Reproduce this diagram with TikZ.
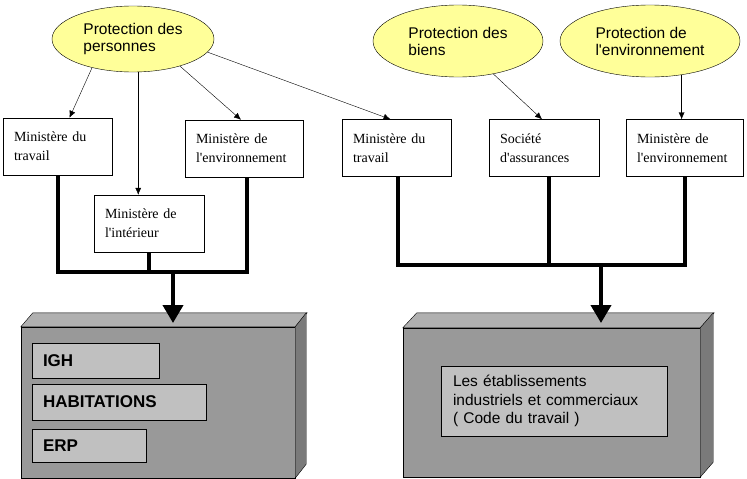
\documentclass[tikz,border=0pt]{standalone}
\usepackage{fontspec}
\setmainfont{Liberation Serif}
\newfontfamily\arialfont{Liberation Sans}
\usetikzlibrary{shapes.geometric,arrows.meta}

\definecolor{jaunepale}{HTML}{FFFF99}
\definecolor{gristoit}{HTML}{B0B0B0}
\definecolor{grisface}{HTML}{999999}
\definecolor{griscote}{HTML}{7A7A7A}
\definecolor{grisclair}{HTML}{C0C0C0}

\newcommand{\apos}{\textquotesingle}

\tikzset{
	protection/.style={ellipse, draw, fill=jaunepale, inner sep=0pt, align=left,
		font=\arialfont\fontsize{15.5}{17}\selectfont},
	ministere/.style={draw, fill=white, minimum height=57pt, inner xsep=11pt, align=left,
		font=\fontsize{14}{19}\selectfont},
	fleche/.style={-{Latex[length=7pt,width=6pt]}, thin},
	bus/.style={line width=4pt, line join=miter},
	grossefleche/.style={line width=4pt, -{Triangle[length=18pt,width=20pt]}},
	facade/.style={draw, fill=grisface, inner sep=0pt},
	categorie/.style={draw, fill=grisclair, inner xsep=11pt, align=left,
		font=\arialfont\bfseries\fontsize{17}{20}\selectfont},
}

\begin{document}
\begin{tikzpicture}[x=1pt,y=-1pt]
	\useasboundingbox (0,0) rectangle (747,479);

	% les trois protections
	\node[protection, minimum width=162pt, minimum height=66pt] (protPers) at (133,39)
		{Protection des\\personnes};
	\node[protection, minimum width=170pt, minimum height=72pt] (protBiens) at (458,41)
		{Protection des\\biens};
	\node[protection, minimum width=180pt, minimum height=72pt] (protEnv) at (650,41)
		{Protection de\\l\apos environnement};

	% les ministeres
	\node[ministere, text width=87pt] (minTravailA) at (57.5,146.5) {Ministère du\\travail};
	\node[ministere, text width=88pt] (minInt) at (149,223.5) {Ministère de\\l\apos intérieur};
	\node[ministere, text width=96pt] (minEnvA) at (244,148.5) {Ministère de\\l\apos environnement};
	\node[ministere, text width=87pt] (minTravailB) at (396.5,148) {Ministère du\\travail};
	\node[ministere, text width=88pt] (minAssur) at (544,148) {Société\\d\apos assurances};
	\node[ministere, text width=95pt] (minEnvB) at (684.5,148) {Ministère de\\l\apos environnement};

	\draw[fleche] (protPers.215) -- ([xshift=12pt]minTravailA.north);
	\draw[fleche] (protPers.279) -- (protPers.279 |- minInt.north);
	\draw[fleche] (protPers.330) -- ([xshift=-3pt]minEnvA.north);
	\draw[fleche] (protPers.350) -- ([xshift=-6pt]minTravailB.north);
	\draw[fleche] (protBiens.317) -- ([xshift=-2pt]minAssur.north);
	\draw[fleche] (protEnv.313) -- (protEnv.313 |- minEnvB.north);

	% regroupements
	\coordinate (jonctionA) at (173,272);
	\coordinate (jonctionB) at (601,265);
	\draw[bus] (minTravailA.south) |- (jonctionA) -| ([xshift=3pt]minEnvA.south);
	\draw[bus] (minInt.south) -- (minInt.south |- jonctionA);
	\draw[bus] ([xshift=1.5pt]minTravailB.south) |- (jonctionB) -| (minEnvB.south);
	\draw[bus] ([xshift=5pt]minAssur.south) -- ([xshift=5pt]minAssur.south |- jonctionB);

	% batiment de gauche
	\node[facade, minimum width=274pt, minimum height=151pt] (batA) at (158,402.5) {};
	\draw[fill=gristoit] (batA.north west) -- ++(12,-14) -- ([shift={(12,-14)}]batA.north east)
		-- (batA.north east) -- cycle;
	\draw[fill=griscote] (batA.north east) -- ++(11,-14) -- ([shift={(11,-14)}]batA.south east)
		-- (batA.south east) -- cycle;
	\node[categorie, text width=105pt, minimum height=35pt] (igh) at (95.5,360.5) {IGH};
	\node[categorie, text width=152pt, minimum height=36pt] (habit) at (119,402) {HABITATIONS};
	\node[categorie, text width=92pt, minimum height=33pt] (erp) at (89,445.5) {ERP};
	\draw[grossefleche] (jonctionA) -- (jonctionA |- 0,323);

	% batiment de droite
	\node[facade, minimum width=297pt, minimum height=149pt] (batB) at (551.5,402.5) {};
	\draw[fill=gristoit] (batB.north west) -- ++(14,-15) -- ([shift={(14,-15)}]batB.north east)
		-- (batB.north east) -- cycle;
	\draw[fill=griscote] (batB.north east) -- ++(13,-15) -- ([shift={(13,-15)}]batB.south east)
		-- (batB.south east) -- cycle;
	\node[categorie, font=\arialfont\fontsize{15.5}{18.5}\selectfont, inner xsep=12pt,
		text width=202pt, minimum height=70pt] (etab) at (554,401)
		{Les établissements\\industriels et commerciaux\\( Code du travail )};
	\draw[grossefleche] (jonctionB) -- (jonctionB |- 0,323);
\end{tikzpicture}
\end{document}
